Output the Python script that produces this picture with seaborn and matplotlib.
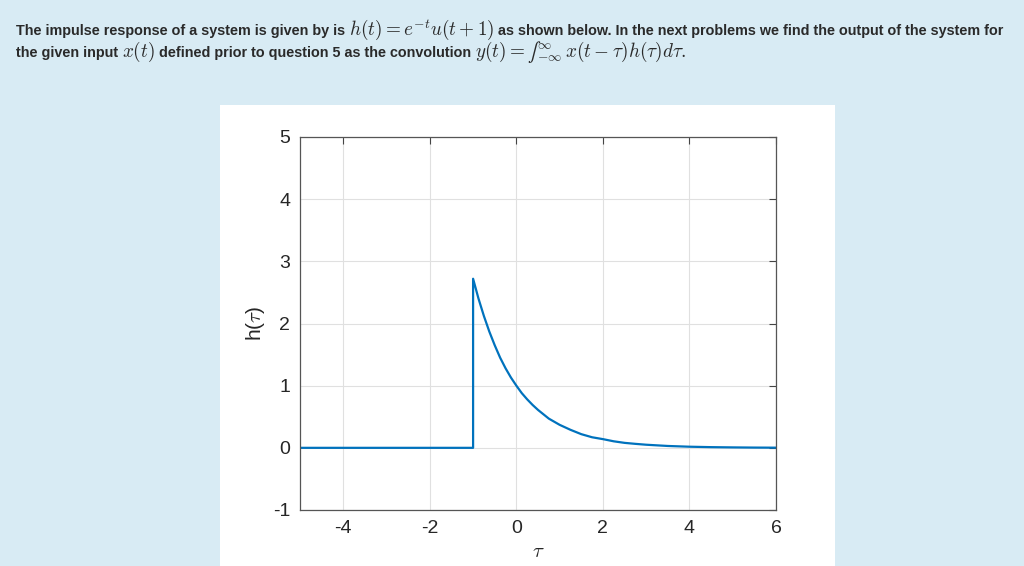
import numpy as np
import pandas as pd
import seaborn as sns
import matplotlib.pyplot as plt
from matplotlib.patches import Rectangle

# values
tau = [-5, -1, -1, -0.875, -0.75, -0.625, -0.5, -0.375, -0.25, -0.125, 0,
       0.125, 0.25, 0.375, 0.5, 0.625, 0.75, 0.875, 1, 1.25, 1.5, 1.75, 2,
       2.25, 2.5, 2.75, 3, 3.5, 4, 4.5, 5, 5.5, 6]
h = [0, 0, 2.72, 2.40, 2.12, 1.87, 1.65, 1.45, 1.28, 1.13, 1.0,
     0.88, 0.78, 0.69, 0.61, 0.54, 0.47, 0.42, 0.37, 0.29, 0.22, 0.17, 0.14,
     0.105, 0.08, 0.064, 0.05, 0.03, 0.018, 0.011, 0.007, 0.004, 0.0025]
xticks = [-4, -2, 0, 2, 4, 6]
yticks = [-1, 0, 1, 2, 3, 4, 5]

line1 = ["The impulse response of a system is given by is ",
         r"$h(t) = e^{-t}u(t+1)$",
         " as shown below. In the next problems we find the output of the system for"]
line2 = ["the given input ", r"$x(t)$",
         " defined prior to question 5 as the convolution ",
         r"$y(t) = ∫_{-\infty}^{\infty}\, x(t-\tau)h(\tau)d\tau.$"]

df = pd.DataFrame({'tau': tau, 'h': h})

sns.set_style('white')
plt.rcParams['font.family'] = ['Liberation Sans', 'DejaVu Sans']
plt.rcParams['mathtext.fontset'] = 'cm'

W, H = 1024, 566
fig = plt.figure(figsize=(W / 100, H / 100), dpi=100)
fig.patch.set_facecolor('#d8ebf4')

# white panel behind the plot
fig.patches.append(Rectangle((220 / W, 0), 615 / W, 1 - 105 / H,
                             transform=fig.transFigure, facecolor='white',
                             edgecolor='none', zorder=-5))

# header: plain text and math pieces placed one after another
renderer = fig.canvas.get_renderer()
def put_line(parts, ybase):
    x = 16 / W
    for p in parts:
        if p.startswith('$'):
            t = fig.text(x, ybase, p, fontsize=13.8, color='#2a2a2a', va='baseline')
        else:
            t = fig.text(x, ybase, p, fontsize=10.4, weight='bold',
                         color='#2a2a2a', va='baseline')
        bb = t.get_window_extent(renderer)
        x = bb.x1 / W

put_line(line1, 1 - 35 / H)
put_line(line2, 1 - 57 / H)

ax = fig.add_axes([300 / W, 1 - 510 / H, 476 / W, 373 / H], zorder=2)
sns.lineplot(data=df, x='tau', y='h', ax=ax, sort=False, estimator=None,
             color='#0072BD', linewidth=1.6)

ax.set_xlim(-5, 6)
ax.set_ylim(-1, 5)
ax.set_xticks(xticks)
ax.set_yticks(yticks)
ax.set_xticklabels([str(v) for v in xticks])
ax.set_yticklabels([str(v) for v in yticks])
ax.grid(True, color='#e0e0e0', linewidth=0.8)
ax.tick_params(direction='in', top=True, right=True, length=5, width=0.8,
               colors='#444444', labelcolor='#262626', labelsize=14, pad=7)
for s in ax.spines.values():
    s.set_color('#555555')
    s.set_linewidth(0.9)
ax.set_xlabel(r'$\tau$', fontsize=15, color='#262626', labelpad=4)
ax.set_ylabel(r'h($\tau$)', fontsize=15, color='#262626', labelpad=4)

fig.savefig('out.png', dpi=100, facecolor=fig.get_facecolor())
